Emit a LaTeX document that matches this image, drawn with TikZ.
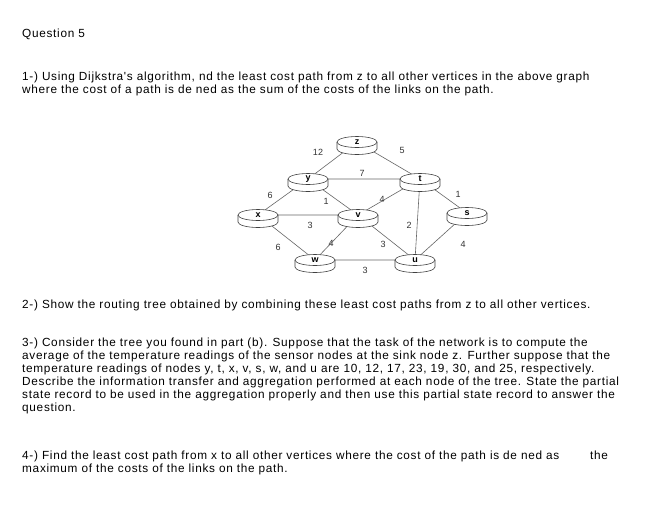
\documentclass[tikz,border=0pt]{standalone}
\usepackage{fontspec}
\setmainfont{Liberation Sans}
\newfontfamily\spaced[LetterSpace=6]{Liberation Sans}
\usetikzlibrary{shapes.geometric,calc}
\begin{document}
\begin{tikzpicture}[x=1pt,y=-1pt,
  txt/.style={anchor=base west,inner sep=0pt,font=\spaced\fontsize{11.8}{13}\selectfont},
  lbl/.style={inner sep=0pt,font=\fontsize{9}{10}\selectfont,text=black!80},
  rtop/.style={ellipse,draw,fill=white,minimum width=40pt,minimum height=11pt,inner sep=0pt,font=\fontsize{9}{10}\selectfont\bfseries},
  edge/.style={draw=black!60,line width=0.6pt}]
\useasboundingbox (0,0) rectangle (663,512);
\fill[white] (0,0) rectangle (663,512);
\node[txt] (q) at (22,37) {Question 5};
\node[txt] (l1) at (22,80) {1-) Using Dijkstra's algorithm, nd the least cost path from z to all other vertices in the above graph};
\node[txt] (l2) at (22,93) {where the cost of a path is de ned as the sum of the costs of the links on the path.};
\node[txt] (l3) at (22,308) {2-) Show the routing tree obtained by combining these least cost paths from z to all other vertices.};
\node[txt] (a1) at (22,346) {3-) Consider the tree you found in part (b). Suppose that the task of the network is to compute the};
\node[txt] (a2) at (22,359) {average of the temperature readings of the sensor nodes at the sink node z. Further suppose that the};
\node[txt] (a3) at (22,372) {temperature readings of nodes y, t, x, v, s, w, and u are 10, 12, 17, 23, 19, 30, and 25, respectively.};
\node[txt] (a4) at (22,385) {Describe the information transfer and aggregation performed at each node of the tree. State the partial};
\node[txt] (a5) at (22,398) {state record to be used in the aggregation properly and then use this partial state record to answer the};
\node[txt] (a6) at (22,411) {question.};
\node[txt] (b1) at (22,459) {4-) Find the least cost path from x to all other vertices where the cost of the path is de ned as};
\node[txt] (b1b) at (590,459) {the};
\node[txt] (b2) at (22,472) {maximum of the costs of the links on the path.};
% graph
\coordinate (z) at (357,142);
\coordinate (y) at (308,179);
\coordinate (t) at (420,179);
\coordinate (x) at (258,215);
\coordinate (v) at (358,215);
\coordinate (s) at (467,213);
\coordinate (w) at (315,260);
\coordinate (u) at (415,260);
\draw[edge] (z)--(y) (z)--(t) (y)--(t) (y)--(x) (y)--(v) (t)--(v) (t)--(s) (t)--(u) (x)--(v) (x)--(w) (w)--(v) (v)--(u) (w)--(u) (s)--(u);
\foreach \n/\l in {z/z,y/y,t/t,x/x,v/v,s/s,w/w,u/u}{
  \draw[fill=white,draw=black!75,line width=0.6pt] ($(\n)+(-20,0)$) -- ($(\n)+(-20,7)$) arc[start angle=180,end angle=360,x radius=20,y radius=-5.5] -- ($(\n)+(20,0)$);
  \node[rtop,draw=black!75,line width=0.6pt] (n\n) at (\n) {\l};
}
\node[lbl] (e1) at (318,152) {12};
\node[lbl] (e2) at (402,150) {5};
\node[lbl] (e3) at (362,173) {7};
\node[lbl] (e4) at (270,195) {6};
\node[lbl] (e5) at (326,201) {1};
\node[lbl] (e6) at (382,199) {4};
\node[lbl] (e7) at (458,194) {1};
\node[lbl] (e8) at (310,225) {3};
\node[lbl] (e9) at (409,225) {2};
\node[lbl] (e10) at (278,247) {6};
\node[lbl] (e11) at (331,243) {4};
\node[lbl] (e12) at (383,244) {3};
\node[lbl] (e13) at (463,244) {4};
\node[lbl] (e14) at (365,270) {3};
\end{tikzpicture}
\end{document}
